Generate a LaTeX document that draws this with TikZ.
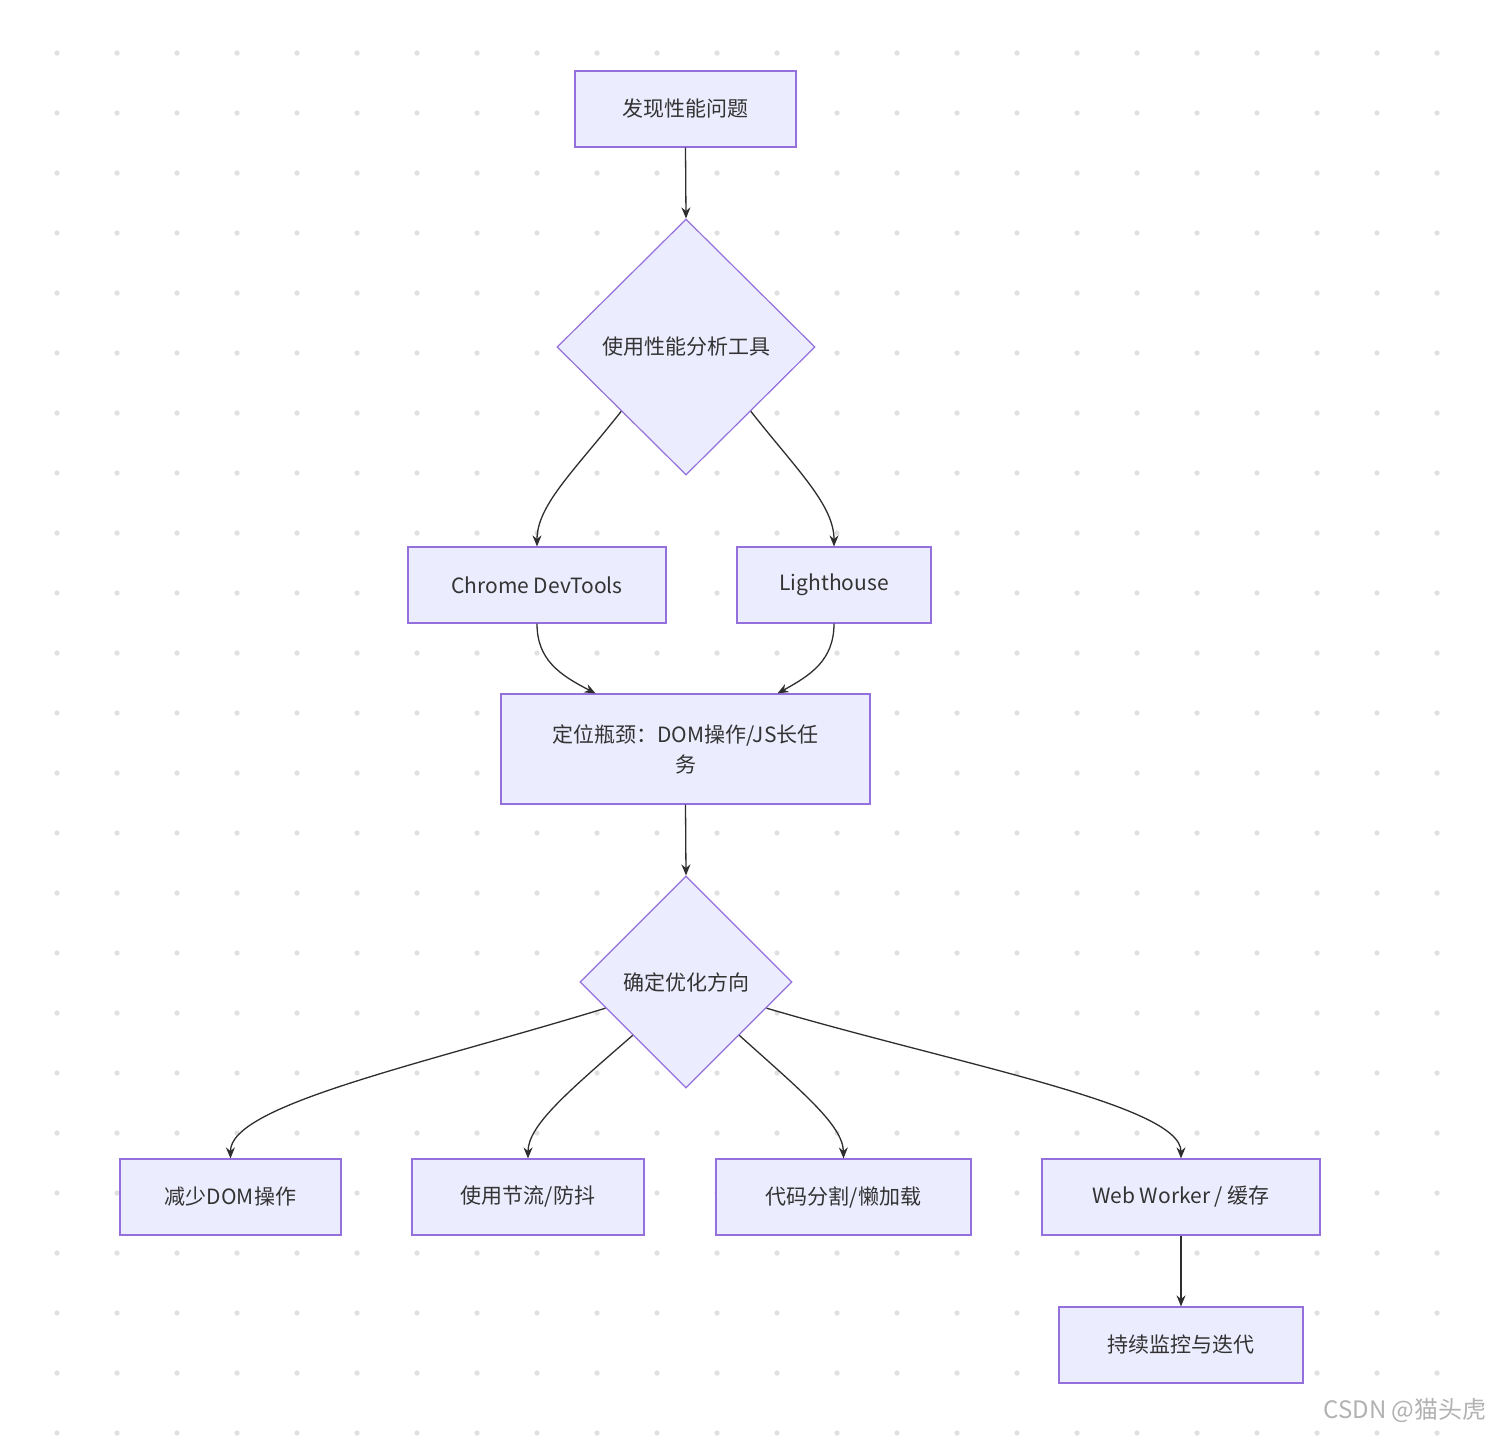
\documentclass[tikz,border=0pt]{standalone}
\usepackage{fontspec}
\setmainfont{Noto Sans CJK SC}
\usetikzlibrary{shapes.geometric,arrows.meta,calc}
\definecolor{nfill}{HTML}{ECECFF}
\definecolor{nline}{HTML}{9370DB}
\definecolor{txt}{HTML}{333333}
\begin{document}
\begin{tikzpicture}[x=1pt,y=-1pt,
  box/.style={draw=nline,fill=nfill,line width=1.2pt,text=txt,font=\fontsize{21}{30}\selectfont,inner sep=0pt,align=center},
  dia/.style={draw=nline,fill=nfill,line width=1.2pt,text=txt,font=\fontsize{21}{30}\selectfont,diamond,inner sep=0pt,aspect=1},
  conn/.style={draw=txt!90!black,line width=1.3pt,-{Stealth[length=11pt,width=9pt]}}]
\useasboundingbox (0,0) rectangle (1494,1436);
\fill[white] (0,0) rectangle (1494,1436);
\foreach \i in {0,...,24}{\foreach \j in {0,...,23}{\fill[black!12] (57+60*\i,53+60*\j) circle (2.6);}}
\node[box,minimum width=221,minimum height=76] (A) at (685.5,109) {发现性能问题};
\node[dia,minimum width=258,minimum height=256] (B) at (686,347) {使用性能分析工具};
\node[box,minimum width=258,minimum height=76] (C) at (537,585) {Chrome DevTools};
\node[box,minimum width=194,minimum height=76] (D) at (834,585) {Lighthouse};
\node[box,minimum width=369,minimum height=110] (E) at (685.5,749) {定位瓶颈：DOM操作/JS长任\\务};
\node[dia,minimum width=212,minimum height=212] (F) at (686,982) {确定优化方向};
\node[box,minimum width=221,minimum height=76] (G) at (230.5,1197) {减少DOM操作};
\node[box,minimum width=232,minimum height=76] (H) at (528,1197) {使用节流/防抖};
\node[box,minimum width=255,minimum height=76] (I) at (843.5,1197) {代码分割/懒加载};
\node[box,minimum width=278,minimum height=76] (J) at (1181,1197) {Web Worker / 缓存};
\node[box,minimum width=244,minimum height=76] (K) at (1181,1345) {持续监控与迭代};
\node[text=black!30,font=\fontsize{24}{28}\selectfont,anchor=east] (W) at (1490,1410) {CSDN @猫头虎};
\draw[conn] (A.south) -- (B.north);
\draw[conn] (B.south west) .. controls (575,470) and (537,505) .. (C.north);
\draw[conn] (B.south east) .. controls (797,470) and (834,505) .. (D.north);
\draw[conn] (C.south) .. controls (537,660) and (560,675) .. ($(E.north)+(-90,0)$);
\draw[conn] (D.south) .. controls (834,660) and (811,675) .. ($(E.north)+(92,0)$);
\draw[conn] (E.south) -- (F.north);
\draw[conn] (F.198) .. controls (420,1065) and (230,1105) .. (G.north);
\draw[conn] (F.south west) .. controls (570,1090) and (528,1125) .. (H.north);
\draw[conn] (F.south east) .. controls (800,1090) and (843,1125) .. (I.north);
\draw[conn] (F.-18) .. controls (960,1065) and (1181,1105) .. (J.north);
\draw[conn] (J.south) -- (K.north);
\end{tikzpicture}
\end{document}
